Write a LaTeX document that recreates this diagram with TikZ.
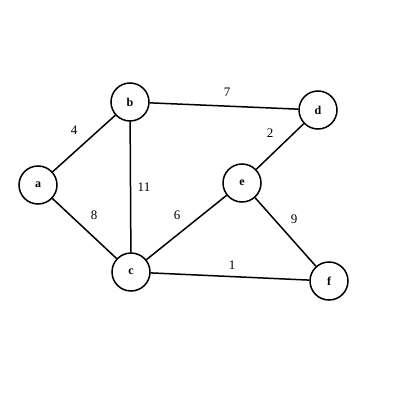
\documentclass[tikz,border=0pt]{standalone}
\usepackage{fontspec}
\setmainfont{Liberation Serif}
\tikzset{
  vert/.style={draw,circle,line width=1.5pt,minimum size=38pt,inner sep=0pt,font=\fontsize{12}{12}\selectfont\bfseries},
  wt/.style={font=\fontsize{13}{13}\selectfont}
}
\begin{document}
\begin{tikzpicture}[x=1pt,y=-1pt]
\useasboundingbox (0,0) rectangle (406,406);
\node[vert] (a) at (38,185) {a};
\node[vert] (b) at (130,102) {b};
\node[vert] (c) at (131,272) {c};
\node[vert] (d) at (318,110) {d};
\node[vert] (e) at (242,183) {e};
\node[vert] (f) at (329,281) {f};
\draw[line width=1.5pt] (a)--(b) (a)--(c) (b)--(c) (b)--(d) (d)--(e) (e)--(c) (e)--(f) (c)--(f);
\node[wt] at (74,130) {4};
\node[wt] at (227,92) {7};
\node[wt] at (270,133) {2};
\node[wt] at (144,187) {11};
\node[wt] at (94,215) {8};
\node[wt] at (177,215) {6};
\node[wt] at (294,219) {9};
\node[wt] at (232,265) {1};
\end{tikzpicture}
\end{document}
